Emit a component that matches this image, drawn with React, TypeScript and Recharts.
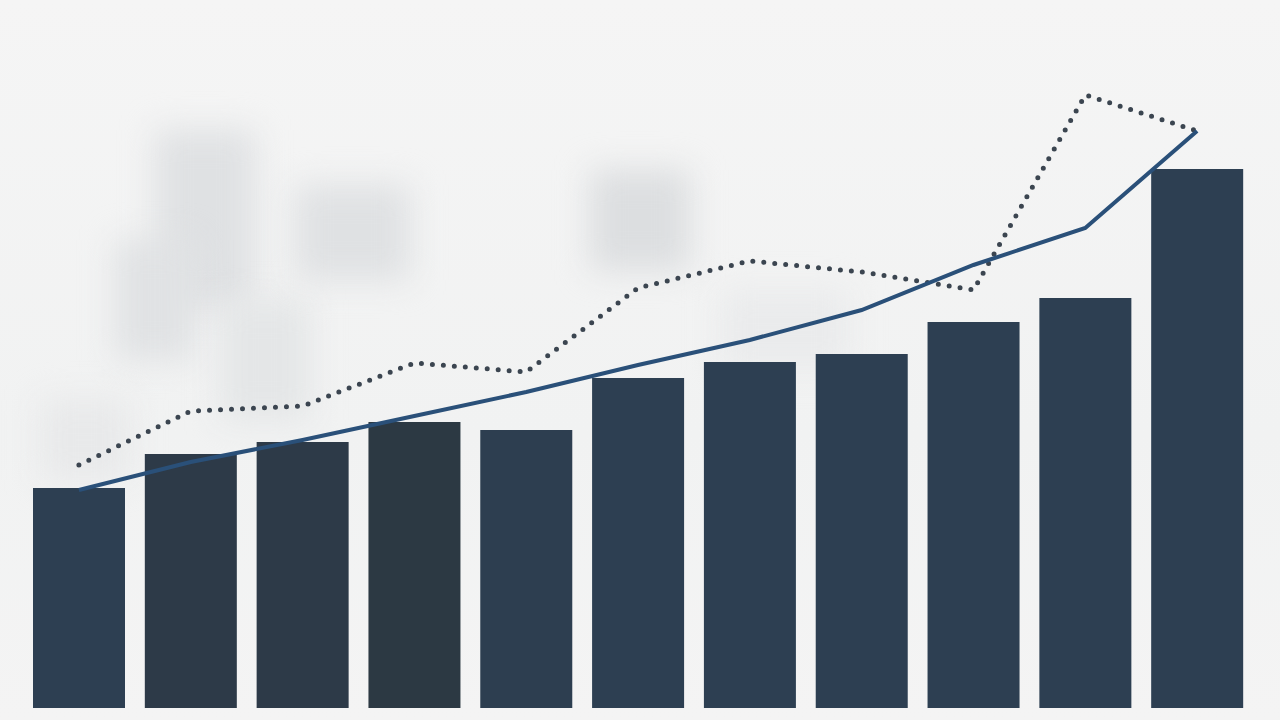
import React from "react";
import { ComposedChart, Bar, Line, XAxis, YAxis, Cell } from "recharts";

const periods = ["P1", "P2", "P3", "P4", "P5", "P6", "P7", "P8", "P9", "P10", "P11"];
const barValues = [220, 254, 266, 286, 278, 330, 346, 354, 386, 410, 539];
const trendValues = [218, 246, 268, 292, 316, 343, 368, 398, 443, 480, 577];
const forecastValues = [243, 297, 302, 345, 336, 420, 447, 436, 418, 613, 577];
const barShades = ["#2d3f52", "#2d3a48", "#2d3a48", "#2c3943", "#2d3e50", "#2d3f52", "#2d3f52", "#2d3f52", "#2d3f52", "#2d3f52", "#2d3f52"];

const data = periods.map((p, i) => ({
  name: p,
  bar: barValues[i],
  trend: trendValues[i],
  forecast: forecastValues[i],
}));

// blurred backdrop blocks, like the out-of-focus photo behind the chart
const blobs = [
  { left: 155, top: 130, w: 100, h: 180, c: "#dfe1e3" },
  { left: 115, top: 240, w: 80, h: 120, c: "#e0e2e4" },
  { left: 220, top: 300, w: 90, h: 120, c: "#e4e6e7" },
  { left: 295, top: 185, w: 115, h: 95, c: "#dfe1e3" },
  { left: 590, top: 170, w: 100, h: 100, c: "#dcdee0" },
  { left: 40, top: 400, w: 90, h: 80, c: "#e8e9ea" },
  { left: 720, top: 290, w: 130, h: 80, c: "#eaebec" },
];

export default function App() {
  return (
    <div
      style={{
        position: "fixed",
        left: 0,
        top: 0,
        width: 1280,
        height: 720,
        overflow: "hidden",
        background: "linear-gradient(#f5f5f5, #f1f2f2 60%, #f4f4f4)",
      }}
    >
      {blobs.map((b, i) => (
        <div
          key={i}
          style={{
            position: "absolute",
            left: b.left,
            top: b.top,
            width: b.w,
            height: b.h,
            background: b.c,
            filter: "blur(16px)",
          }}
        />
      ))}
      <div style={{ position: "absolute", left: 0, top: 0 }}>
        <ComposedChart
          width={1280}
          height={720}
          data={data}
          margin={{ top: 0, right: 27, bottom: 12, left: 23 }}
        >
          <XAxis dataKey="name" hide />
          <YAxis hide domain={[0, 708]} />
          <Bar dataKey="bar" barSize={92} isAnimationActive={false}>
            {data.map((_, i) => (
              <Cell key={i} fill={barShades[i]} />
            ))}
          </Bar>
          <Line
            type="linear"
            dataKey="forecast"
            stroke="#3b4550"
            strokeWidth={5}
            strokeDasharray="0 11"
            strokeLinecap="round"
            dot={false}
            isAnimationActive={false}
          />
          <Line
            type="linear"
            dataKey="trend"
            stroke="#2a5079"
            strokeWidth={4}
            dot={false}
            isAnimationActive={false}
          />
        </ComposedChart>
      </div>
    </div>
  );
}
